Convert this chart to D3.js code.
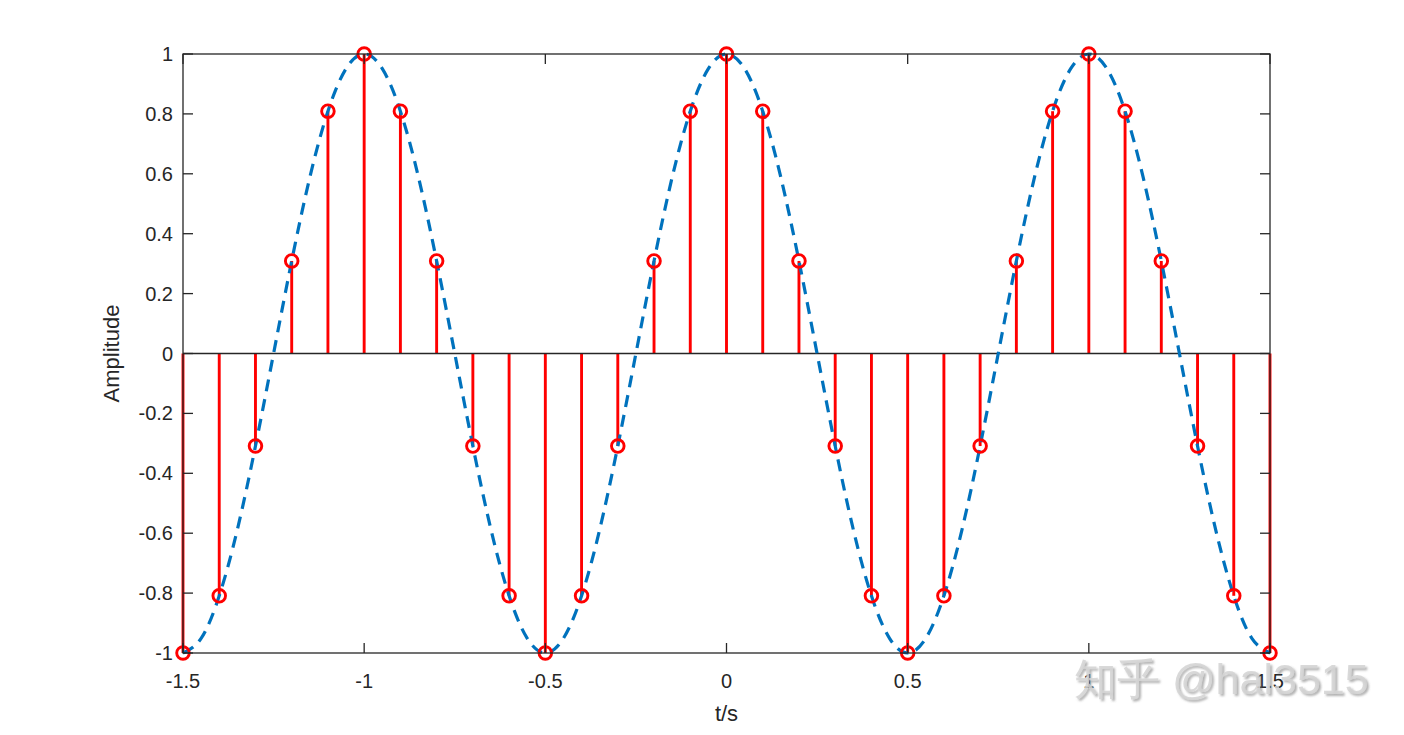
<!DOCTYPE html>
<html><head><meta charset="utf-8">
<script src="https://cdn.jsdelivr.net/npm/d3@7"></script>
<style>body{margin:0;background:#fff}svg{display:block}text{font-family:"Liberation Sans",Arial,sans-serif}</style>
</head><body><svg id="c" width="1404" height="735"></svg>
<script>
// Sample times (s) and sampled amplitudes (stems)
const stemT = [-1.5,-1.4,-1.3,-1.2,-1.1,-1.0,-0.9,-0.8,-0.7,-0.6,-0.5,-0.4,-0.3,-0.2,-0.1,0,0.1,0.2,0.3,0.4,0.5,0.6,0.7,0.8,0.9,1.0,1.1,1.2,1.3,1.4,1.5];
const stemV = [-1,-0.809,-0.309,0.309,0.809,1,0.809,0.309,-0.309,-0.809,-1,-0.809,-0.309,0.309,0.809,1,0.809,0.309,-0.309,-0.809,-1,-0.809,-0.309,0.309,0.809,1,0.809,0.309,-0.309,-0.809,-1];
// Continuous signal read at 0.05 s steps from -1.5 to 1.5
const curveV = [-1,-0.951,-0.809,-0.588,-0.309,0,0.309,0.588,0.809,0.951,1,0.951,0.809,0.588,0.309,0,-0.309,-0.588,-0.809,-0.951,
                -1,-0.951,-0.809,-0.588,-0.309,0,0.309,0.588,0.809,0.951,1,0.951,0.809,0.588,0.309,0,-0.309,-0.588,-0.809,-0.951,
                -1,-0.951,-0.809,-0.588,-0.309,0,0.309,0.588,0.809,0.951,1,0.951,0.809,0.588,0.309,0,-0.309,-0.588,-0.809,-0.951,-1];
const curveStart = -1.5, curveStep = 0.05;
const xTicks = [-1.5,-1,-0.5,0,0.5,1,1.5];
const xTickLabels = ["-1.5","-1","-0.5","0","0.5","1","1.5"];
const yTicks = [-1,-0.8,-0.6,-0.4,-0.2,0,0.2,0.4,0.6,0.8,1];
const yTickLabels = ["-1","-0.8","-0.6","-0.4","-0.2","0","0.2","0.4","0.6","0.8","1"];
const xLabel = "t/s", yLabel = "Amplitude", watermark = "知乎 @hal3515";

const svg = d3.select("#c");
const defs = svg.append("defs");
const f = defs.append("filter").attr("id","sh").attr("x","-10%").attr("y","-20%").attr("width","120%").attr("height","150%");
f.append("feDropShadow").attr("dx",2).attr("dy",2).attr("stdDeviation",1).attr("flood-color","#666").attr("flood-opacity",0.6);

const L=183,R=1270,T=54,B=653;
const x = d3.scaleLinear().domain([-1.5,1.5]).range([L,R]);
const y = d3.scaleLinear().domain([-1,1]).range([B,T]);

// stems
const g = svg.append("g");
g.selectAll("line.stem").data(stemT).enter().append("line")
 .attr("x1",d=>x(d)).attr("x2",d=>x(d)).attr("y1",y(0)).attr("y2",(d,i)=>y(stemV[i]))
 .attr("stroke","#ff0000").attr("stroke-width",2.9);
// baseline
g.append("line").attr("x1",L).attr("x2",R).attr("y1",y(0)).attr("y2",y(0)).attr("stroke","#262626").attr("stroke-width",1.3);
// continuous curve
const pts = curveV.map((v,i)=>[curveStart+i*curveStep, v]);
g.append("path").datum(pts)
 .attr("d", d3.line().x(d=>x(d[0])).y(d=>y(d[1])).curve(d3.curveNatural))
 .attr("fill","none").attr("stroke","#0072BD").attr("stroke-width",3.2).attr("stroke-dasharray","12,8");
// markers
g.selectAll("circle").data(stemT).enter().append("circle")
 .attr("cx",d=>x(d)).attr("cy",(d,i)=>y(stemV[i])).attr("r",6.3)
 .attr("fill","none").attr("stroke","#ff0000").attr("stroke-width",2.9);

// axes box with inward ticks
const ax = svg.append("g").attr("stroke","#262626").attr("stroke-width",1.3);
ax.append("rect").attr("x",L).attr("y",T).attr("width",R-L).attr("height",B-T).attr("fill","none");
const tl=10;
ax.selectAll("line.xb").data(xTicks).enter().append("line").attr("x1",d=>x(d)).attr("x2",d=>x(d)).attr("y1",B).attr("y2",B-tl);
ax.selectAll("line.xt").data(xTicks).enter().append("line").attr("x1",d=>x(d)).attr("x2",d=>x(d)).attr("y1",T).attr("y2",T+tl);
ax.selectAll("line.yl").data(yTicks).enter().append("line").attr("y1",d=>y(d)).attr("y2",d=>y(d)).attr("x1",L).attr("x2",L+tl);
ax.selectAll("line.yr").data(yTicks).enter().append("line").attr("y1",d=>y(d)).attr("y2",d=>y(d)).attr("x1",R).attr("x2",R-tl);

const tg = svg.append("g").attr("fill","#262626").attr("font-size",20);
tg.selectAll("text.xl").data(xTicks).enter().append("text")
 .attr("x",d=>x(d)).attr("y",B+35).attr("text-anchor","middle").text((d,i)=>xTickLabels[i]);
tg.selectAll("text.yl").data(yTicks).enter().append("text")
 .attr("x",L-10).attr("y",d=>y(d)+7).attr("text-anchor","end").text((d,i)=>yTickLabels[i]);
tg.append("text").attr("x",(L+R)/2).attr("y",721).attr("text-anchor","middle").attr("font-size",22).text(xLabel);
tg.append("text").attr("transform",`translate(119,${(T+B)/2}) rotate(-90)`).attr("text-anchor","middle").attr("font-size",22).text(yLabel);

// watermark
svg.append("text").attr("x",1074).attr("y",694)
 .attr("font-family","'Noto Sans CJK SC',sans-serif").attr("font-size",43)
 .attr("fill","#d4d4d4").attr("fill-opacity",0.85).attr("filter","url(#sh)").text(watermark);
</script></body></html>
